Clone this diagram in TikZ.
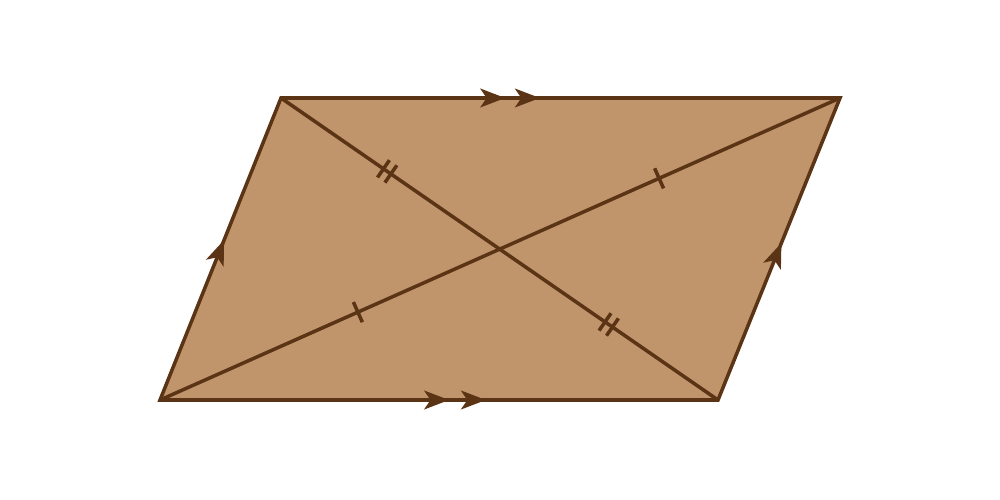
\documentclass[tikz,border=0pt]{standalone}
\usetikzlibrary{arrows.meta,decorations.markings}
\definecolor{cardboard}{RGB}{192,149,108}
\definecolor{darkbrown}{RGB}{90,52,20}
\begin{document}
\begin{tikzpicture}[x=0.01cm,y=-0.01cm,
    side/.style={draw=darkbrown,line width=1pt},
    onetick/.style={postaction={decorate,decoration={markings,
      mark=at position #1 with {\draw[side] (0,-0.11cm) -- (0,0.11cm);}}}},
    twotick/.style={postaction={decorate,decoration={markings,
      mark=at position #1 with {\draw[side] (-0.045cm,-0.105cm) -- (-0.045cm,0.105cm)
        (0.045cm,-0.105cm) -- (0.045cm,0.105cm);}}}},
    parmark/.style={postaction={decorate,decoration={markings,
      mark=at position #1 with {\arrow[darkbrown]{Stealth[length=0.25cm,width=0.19cm,inset=0.065cm]}}}}}]
      \useasboundingbox (0,0) rectangle (1000,500);
      \coordinate (A) at (160,400);
      \coordinate (B) at (718,400);
      \coordinate (C) at (840,98);
      \coordinate (D) at (281,98);
      % parallelogram and diagonals
      \fill[cardboard] (A) -- (B) -- (C) -- (D) -- cycle;
      \draw[side,onetick=0.291,onetick=0.734] (A) -- (C);
      \draw[side,twotick=0.243,twotick=0.75] (D) -- (B);
      \draw[side] (A) -- (B) -- (C) -- (D) -- cycle;
      % parallel marks
      \path[parmark=0.518,parmark=0.584] (A) -- (B);
      \path[parmark=0.401,parmark=0.463] (D) -- (C);
      \path[parmark=0.53] (A) -- (D);
      \path[parmark=0.52] (B) -- (C);
\end{tikzpicture}
\end{document}
